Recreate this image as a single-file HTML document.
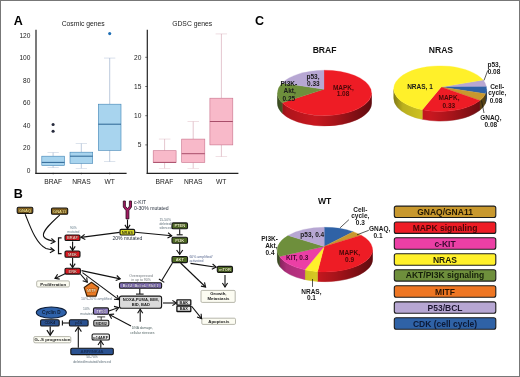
<!DOCTYPE html><html><head><meta charset="utf-8"><title>Figure</title><style>html,body{margin:0;padding:0;background:#fff}svg{display:block}text{font-family:"Liberation Sans",sans-serif}</style></head><body>
<svg width="520" height="377" viewBox="0 0 520 377">
<rect x="0" y="0" width="520" height="377" fill="#fff"/>
<text x="18.3" y="25.2" font-size="12.5" fill="#000" font-weight="bold" text-anchor="middle" >A</text>
<text x="83.2" y="26.4" font-size="6.8" fill="#222" font-weight="normal" text-anchor="middle" >Cosmic genes</text>
<text x="192.2" y="26.4" font-size="6.8" fill="#222" font-weight="normal" text-anchor="middle" >GDSC genes</text>
<line x1="36.0" y1="29.7" x2="36.0" y2="173.9" stroke="#222" stroke-width="1.2" />
<line x1="35.4" y1="173.4" x2="126.6" y2="173.4" stroke="#222" stroke-width="1.1" />
<line x1="53.2" y1="172.8" x2="53.2" y2="174.4" stroke="#222" stroke-width="0.6" />
<line x1="81.4" y1="172.8" x2="81.4" y2="174.4" stroke="#222" stroke-width="0.6" />
<line x1="109.7" y1="172.6" x2="109.7" y2="174.4" stroke="#222" stroke-width="0.6" />
<text x="30.4" y="172.9" font-size="6.6" fill="#222" font-weight="normal" text-anchor="end" >0</text>
<text x="30.4" y="150.4" font-size="6.6" fill="#222" font-weight="normal" text-anchor="end" >20</text>
<text x="30.4" y="127.9" font-size="6.6" fill="#222" font-weight="normal" text-anchor="end" >40</text>
<text x="30.4" y="105.4" font-size="6.6" fill="#222" font-weight="normal" text-anchor="end" >60</text>
<text x="30.4" y="82.9" font-size="6.6" fill="#222" font-weight="normal" text-anchor="end" >80</text>
<text x="30.4" y="60.4" font-size="6.6" fill="#222" font-weight="normal" text-anchor="end" >100</text>
<text x="30.4" y="37.9" font-size="6.6" fill="#222" font-weight="normal" text-anchor="end" >120</text>
<line x1="53.1" y1="152.6" x2="53.1" y2="156.2" stroke="#90a6c6" stroke-width="0.6" />
<line x1="53.1" y1="165.5" x2="53.1" y2="167.6" stroke="#90a6c6" stroke-width="0.6" />
<line x1="47.5" y1="152.6" x2="58.8" y2="152.6" stroke="#90a6c6" stroke-width="0.5" opacity="0.7"/>
<line x1="47.5" y1="167.6" x2="58.8" y2="167.6" stroke="#90a6c6" stroke-width="0.5" opacity="0.7"/>
<rect x="41.8" y="156.2" width="22.7" height="9.3" fill="#a8d4ee" stroke="#3f82b4" stroke-width="0.6"/>
<line x1="41.8" y1="162.4" x2="64.5" y2="162.4" stroke="#2c6493" stroke-width="1.0" />
<circle cx="53.1" cy="124.5" r="1.55" fill="#262a3c"/>
<circle cx="53.1" cy="131.2" r="1.55" fill="#262a3c"/>
<line x1="81.3" y1="143.6" x2="81.3" y2="152.2" stroke="#90a6c6" stroke-width="0.6" />
<line x1="81.3" y1="163.3" x2="81.3" y2="168.3" stroke="#90a6c6" stroke-width="0.6" />
<line x1="75.7" y1="143.6" x2="87.0" y2="143.6" stroke="#90a6c6" stroke-width="0.5" opacity="0.7"/>
<line x1="75.7" y1="168.3" x2="87.0" y2="168.3" stroke="#90a6c6" stroke-width="0.5" opacity="0.7"/>
<rect x="70.0" y="152.2" width="22.7" height="11.1" fill="#a8d4ee" stroke="#3f82b4" stroke-width="0.6"/>
<line x1="70.0" y1="156.2" x2="92.7" y2="156.2" stroke="#2c6493" stroke-width="1.0" />
<line x1="109.7" y1="58.1" x2="109.7" y2="104.2" stroke="#90a6c6" stroke-width="0.6" />
<line x1="109.7" y1="150.3" x2="109.7" y2="161.6" stroke="#90a6c6" stroke-width="0.6" />
<line x1="104.0" y1="58.1" x2="115.3" y2="58.1" stroke="#90a6c6" stroke-width="0.5" opacity="0.7"/>
<line x1="104.0" y1="161.6" x2="115.3" y2="161.6" stroke="#90a6c6" stroke-width="0.5" opacity="0.7"/>
<rect x="98.3" y="104.2" width="22.7" height="46.1" fill="#a8d4ee" stroke="#3f82b4" stroke-width="0.6"/>
<line x1="98.3" y1="124.2" x2="121.0" y2="124.2" stroke="#2c6493" stroke-width="1.0" />
<circle cx="109.7" cy="33.6" r="1.55" fill="#1f6fb5"/>
<text x="53.2" y="183.5" font-size="6.7" fill="#222" font-weight="normal" text-anchor="middle" >BRAF</text>
<text x="81.5" y="183.5" font-size="6.7" fill="#222" font-weight="normal" text-anchor="middle" >NRAS</text>
<text x="109.6" y="183.5" font-size="6.7" fill="#222" font-weight="normal" text-anchor="middle" >WT</text>
<line x1="147.3" y1="29.7" x2="147.3" y2="173.9" stroke="#222" stroke-width="1.2" />
<line x1="146.7" y1="173.4" x2="238.4" y2="173.4" stroke="#222" stroke-width="1.1" />
<line x1="145.2" y1="144.9" x2="147.3" y2="144.9" stroke="#222" stroke-width="0.6" />
<text x="141.4" y="147.2" font-size="6.6" fill="#222" font-weight="normal" text-anchor="end" >5</text>
<line x1="145.2" y1="115.7" x2="147.3" y2="115.7" stroke="#222" stroke-width="0.6" />
<text x="141.4" y="118.0" font-size="6.6" fill="#222" font-weight="normal" text-anchor="end" >10</text>
<line x1="145.2" y1="86.5" x2="147.3" y2="86.5" stroke="#222" stroke-width="0.6" />
<text x="141.4" y="88.8" font-size="6.6" fill="#222" font-weight="normal" text-anchor="end" >15</text>
<line x1="145.2" y1="57.3" x2="147.3" y2="57.3" stroke="#222" stroke-width="0.6" />
<text x="141.4" y="59.6" font-size="6.6" fill="#222" font-weight="normal" text-anchor="end" >20</text>
<line x1="164.6" y1="139.1" x2="164.6" y2="150.7" stroke="#d2a0ac" stroke-width="0.6" />
<line x1="164.6" y1="162.4" x2="164.6" y2="168.3" stroke="#d2a0ac" stroke-width="0.6" />
<line x1="158.9" y1="139.1" x2="170.4" y2="139.1" stroke="#d2a0ac" stroke-width="0.5" opacity="0.7"/>
<line x1="158.9" y1="168.3" x2="170.4" y2="168.3" stroke="#d2a0ac" stroke-width="0.5" opacity="0.7"/>
<rect x="153.2" y="150.7" width="22.9" height="11.7" fill="#f8b9c9" stroke="#c8708a" stroke-width="0.6"/>
<line x1="153.2" y1="162.4" x2="176.1" y2="162.4" stroke="#a84e6a" stroke-width="1.0" />
<line x1="193.2" y1="121.5" x2="193.2" y2="139.1" stroke="#d2a0ac" stroke-width="0.6" />
<line x1="193.2" y1="162.4" x2="193.2" y2="168.3" stroke="#d2a0ac" stroke-width="0.6" />
<line x1="187.5" y1="121.5" x2="199.0" y2="121.5" stroke="#d2a0ac" stroke-width="0.5" opacity="0.7"/>
<line x1="187.5" y1="168.3" x2="199.0" y2="168.3" stroke="#d2a0ac" stroke-width="0.5" opacity="0.7"/>
<rect x="181.7" y="139.1" width="23.1" height="23.4" fill="#f8b9c9" stroke="#c8708a" stroke-width="0.6"/>
<line x1="181.7" y1="153.7" x2="204.8" y2="153.7" stroke="#a84e6a" stroke-width="1.0" />
<line x1="221.4" y1="33.9" x2="221.4" y2="98.2" stroke="#d2a0ac" stroke-width="0.6" />
<line x1="221.4" y1="144.9" x2="221.4" y2="156.6" stroke="#d2a0ac" stroke-width="0.6" />
<line x1="215.6" y1="33.9" x2="227.1" y2="33.9" stroke="#d2a0ac" stroke-width="0.5" opacity="0.7"/>
<line x1="215.6" y1="156.6" x2="227.1" y2="156.6" stroke="#d2a0ac" stroke-width="0.5" opacity="0.7"/>
<rect x="209.9" y="98.2" width="22.9" height="46.7" fill="#f8b9c9" stroke="#c8708a" stroke-width="0.6"/>
<line x1="209.9" y1="121.5" x2="232.8" y2="121.5" stroke="#a84e6a" stroke-width="1.0" />
<text x="164.5" y="183.5" font-size="6.7" fill="#222" font-weight="normal" text-anchor="middle" >BRAF</text>
<text x="193.3" y="183.5" font-size="6.7" fill="#222" font-weight="normal" text-anchor="middle" >NRAS</text>
<text x="221.2" y="183.5" font-size="6.7" fill="#222" font-weight="normal" text-anchor="middle" >WT</text>
<text x="18.3" y="197.7" font-size="12.5" fill="#000" font-weight="bold" text-anchor="middle" >B</text>
<rect x="17.2" y="207.2" width="15.6" height="6.2" rx="1.3" fill="#8a6620" stroke="#161616" stroke-width="1.1"/>
<text x="25.0" y="211.7" font-size="4.0" fill="#f6e58e" font-weight="bold" text-anchor="middle" stroke="#2a1c04" stroke-width="0.4" paint-order="stroke">GNAQ</text>
<rect x="51.5" y="208.0" width="16.2" height="6.3" rx="1.3" fill="#8a6620" stroke="#161616" stroke-width="1.1"/>
<text x="59.6" y="212.6" font-size="4.0" fill="#f6e58e" font-weight="bold" text-anchor="middle" stroke="#2a1c04" stroke-width="0.4" paint-order="stroke">GNA11</text>
<path d="M25.2,214.2 C30,226 36,244 46,248.5 L53.5,250.3" fill="none" stroke="#111" stroke-width="1.1"/>
<polyline points="49.9,252.7 54.2,250.5 50.5,247.5" fill="none" stroke="#111" stroke-width="1.1"/>
<path d="M59.7,215 C52,222 42,231 43.5,236 C44.5,239.5 50,240.5 54,241.4" fill="none" stroke="#111" stroke-width="1.1"/>
<polyline points="50.6,243.7 55.0,241.7 51.4,238.5" fill="none" stroke="#111" stroke-width="1.1"/>
<path d="M61.6,237.9 H58.5 V253.6 H61.6" fill="none" stroke="#111" stroke-width="1.2"/>
<text x="73.3" y="228.6" font-size="3.4" fill="#5f7886" font-weight="normal" text-anchor="middle" >90%</text>
<text x="73.3" y="232.8" font-size="3.4" fill="#5f7886" font-weight="normal" text-anchor="middle" >mutated</text>
<rect x="65.0" y="235.0" width="15.0" height="5.5" rx="1.3" fill="#d81a22" stroke="#161616" stroke-width="1.1"/>
<text x="72.5" y="239.2" font-size="4.0" fill="#f9c0b4" font-weight="bold" text-anchor="middle" stroke="#3a0606" stroke-width="0.4" paint-order="stroke">BRAF</text>
<rect x="65.0" y="251.0" width="15.0" height="6.2" rx="1.3" fill="#d81a22" stroke="#161616" stroke-width="1.1"/>
<text x="72.5" y="255.5" font-size="4.0" fill="#f9c0b4" font-weight="bold" text-anchor="middle" stroke="#3a0606" stroke-width="0.4" paint-order="stroke">MEK</text>
<rect x="65.0" y="268.3" width="15.4" height="5.8" rx="1.3" fill="#d81a22" stroke="#161616" stroke-width="1.1"/>
<text x="72.7" y="272.6" font-size="4.0" fill="#f9c0b4" font-weight="bold" text-anchor="middle" stroke="#3a0606" stroke-width="0.4" paint-order="stroke">ERK</text>
<line x1="72.6" y1="241.4" x2="72.6" y2="250.4" stroke="#111" stroke-width="1.1" />
<polyline points="70.0,246.4 72.6,250.4 75.2,246.4" fill="none" stroke="#111" stroke-width="1.1"/>
<line x1="72.6" y1="258.0" x2="72.6" y2="267.6" stroke="#111" stroke-width="1.1" />
<polyline points="70.0,263.6 72.6,267.6 75.2,263.6" fill="none" stroke="#111" stroke-width="1.1"/>
<path d="M123.3,201 V207 L126,210.6 V218.9 H128.9 V210.6 L131.5,207 V201 H129.4 V206.2 L127.45,208.6 L125.4,206.2 V201 Z" fill="#a21a62" stroke="#2a0a1c" stroke-width="0.8" stroke-linejoin="round"/>
<text x="134.0" y="204.2" font-size="5.1" fill="#2a3340" font-weight="normal" text-anchor="start" >c-KIT</text>
<text x="134.0" y="210.2" font-size="5.1" fill="#2a3340" font-weight="normal" text-anchor="start" >0-30% mutated</text>
<line x1="127.5" y1="219.6" x2="127.5" y2="228.9" stroke="#111" stroke-width="1.1" />
<polyline points="124.9,224.9 127.5,228.9 130.1,224.9" fill="none" stroke="#111" stroke-width="1.1"/>
<rect x="120.0" y="229.4" width="14.7" height="5.6" rx="1.3" fill="#d4d622" stroke="#161616" stroke-width="1.1"/>
<text x="127.3" y="233.6" font-size="4.0" fill="#3a3a00" font-weight="bold" text-anchor="middle" stroke="#f2f280" stroke-width="0.2" paint-order="stroke">NRAS</text>
<text x="127.4" y="240.4" font-size="5.1" fill="#2a3340" font-weight="normal" text-anchor="middle" >20% mutated</text>
<line x1="119.6" y1="232.4" x2="81.0" y2="237.4" stroke="#111" stroke-width="1.1" />
<polyline points="84.6,234.3 81.0,237.4 85.3,239.5" fill="none" stroke="#111" stroke-width="1.1"/>
<line x1="135.0" y1="232.2" x2="171.8" y2="235.8" stroke="#111" stroke-width="1.1" />
<polyline points="167.5,238.0 171.8,235.8 168.1,232.8" fill="none" stroke="#111" stroke-width="1.1"/>
<text x="159.4" y="221.0" font-size="3.4" fill="#5f6f7a" font-weight="normal" text-anchor="start" >15-50%</text>
<text x="159.4" y="225.1" font-size="3.4" fill="#5f6f7a" font-weight="normal" text-anchor="start" >deleted/</text>
<text x="159.4" y="229.2" font-size="3.4" fill="#5f6f7a" font-weight="normal" text-anchor="start" >silenced</text>
<rect x="172.0" y="222.9" width="15.5" height="5.9" rx="1.3" fill="#4f6b25" stroke="#161616" stroke-width="1.1"/>
<text x="179.8" y="227.3" font-size="4.0" fill="#eef2c4" font-weight="bold" text-anchor="middle" stroke="#1a2408" stroke-width="0.4" paint-order="stroke">PTEN</text>
<rect x="172.0" y="237.2" width="15.5" height="6.0" rx="1.3" fill="#4f6b25" stroke="#161616" stroke-width="1.1"/>
<text x="179.8" y="241.6" font-size="4.0" fill="#eef2c4" font-weight="bold" text-anchor="middle" stroke="#1a2408" stroke-width="0.4" paint-order="stroke">PI3K</text>
<line x1="179.7" y1="229.2" x2="179.7" y2="234.8" stroke="#111" stroke-width="1.1" />
<line x1="182.7" y1="234.8" x2="176.7" y2="234.8" stroke="#111" stroke-width="1.1" />
<line x1="179.7" y1="243.6" x2="179.7" y2="254.4" stroke="#111" stroke-width="1.1" />
<polyline points="176.6,250.0 179.7,254.4 182.8,250.0" fill="none" stroke="#111" stroke-width="1.1"/>
<rect x="172.0" y="256.5" width="15.5" height="6.1" rx="1.3" fill="#4f6b25" stroke="#161616" stroke-width="1.1"/>
<text x="179.8" y="261.0" font-size="4.0" fill="#eef2c4" font-weight="bold" text-anchor="middle" stroke="#1a2408" stroke-width="0.4" paint-order="stroke">AKT</text>
<text x="189.4" y="257.7" font-size="3.5" fill="#56668e" font-weight="normal" text-anchor="start" >60% amplified/</text>
<text x="189.4" y="261.7" font-size="3.5" fill="#56668e" font-weight="normal" text-anchor="start" >activated</text>
<line x1="190.5" y1="263.4" x2="216.2" y2="267.2" stroke="#111" stroke-width="1.1" />
<polyline points="211.8,269.2 216.2,267.2 212.6,264.0" fill="none" stroke="#111" stroke-width="1.1"/>
<rect x="217.3" y="266.4" width="15.2" height="6.0" rx="1.3" fill="#4f6b25" stroke="#161616" stroke-width="1.1"/>
<text x="224.9" y="270.8" font-size="4.0" fill="#eef2c4" font-weight="bold" text-anchor="middle" stroke="#1a2408" stroke-width="0.4" paint-order="stroke">mTOR</text>
<line x1="225.0" y1="274.9" x2="225.0" y2="287.0" stroke="#111" stroke-width="1.1" />
<polyline points="222.4,283.0 225.0,287.0 227.6,283.0" fill="none" stroke="#111" stroke-width="1.1"/>
<line x1="180.6" y1="263.0" x2="205.6" y2="287.0" stroke="#111" stroke-width="1.1" />
<polyline points="200.9,286.1 205.6,287.0 204.5,282.3" fill="none" stroke="#111" stroke-width="1.1"/>
<line x1="172.4" y1="263.0" x2="161.6" y2="280.7" stroke="#111" stroke-width="1.1" />
<line x1="164.3" y1="282.4" x2="158.9" y2="279.0" stroke="#111" stroke-width="1.1" />
<rect x="201.0" y="290.4" width="34.2" height="12.0" rx="1.2" fill="#fcfcf2" stroke="#a4a498" stroke-width="0.8"/>
<text x="218.4" y="294.9" font-size="4.3" fill="#222" font-weight="bold" text-anchor="middle" >Growth,</text>
<text x="218.4" y="300.2" font-size="4.3" fill="#222" font-weight="bold" text-anchor="middle" >Metastasis</text>
<rect x="201.8" y="318.2" width="33.7" height="6.2" rx="1.2" fill="#fcfcf2" stroke="#a4a498" stroke-width="0.8"/>
<text x="218.8" y="322.8" font-size="4.3" fill="#222" font-weight="bold" text-anchor="middle" >Apoptosis</text>
<text x="141.1" y="276.7" font-size="3.5" fill="#70777c" font-weight="normal" text-anchor="middle" >Overexpressed</text>
<text x="141.1" y="280.5" font-size="3.5" fill="#70777c" font-weight="normal" text-anchor="middle" >in up to 90%</text>
<rect x="119.5" y="282.8" width="42.1" height="5.5" rx="1.3" fill="#8674b8" stroke="#161616" stroke-width="1.1"/>
<text x="140.6" y="287.0" font-size="3.9" fill="#ece6fa" font-weight="bold" text-anchor="middle" stroke="#1c1436" stroke-width="0.4" paint-order="stroke">Bcl-2, Bcl-xL, Mcl-1</text>
<line x1="139.8" y1="288.7" x2="139.8" y2="294.1" stroke="#111" stroke-width="1.1" />
<line x1="143.6" y1="294.1" x2="136.0" y2="294.1" stroke="#111" stroke-width="1.1" />
<rect x="119.5" y="296.1" width="42.1" height="12.1" rx="2" fill="#dadada" stroke="#161616" stroke-width="1.1"/>
<text x="140.8" y="301.1" font-size="4.1" fill="#222" font-weight="bold" text-anchor="middle" >NOXA,PUMA, BIM,</text>
<text x="140.8" y="305.7" font-size="4.1" fill="#222" font-weight="bold" text-anchor="middle" >BID, BAD</text>
<line x1="163.0" y1="303.0" x2="176.4" y2="303.0" stroke="#111" stroke-width="1.1" />
<polyline points="172.4,305.6 176.4,303.0 172.4,300.4" fill="none" stroke="#111" stroke-width="1.1"/>
<rect x="176.9" y="299.9" width="13.9" height="5.3" rx="0.6" fill="#e6e6e6" stroke="#111" stroke-width="1.3"/>
<text x="183.8" y="304.0" font-size="3.9" fill="#222" font-weight="bold" text-anchor="middle" >BAK</text>
<rect x="176.9" y="306.2" width="13.9" height="5.3" rx="0.6" fill="#e6e6e6" stroke="#111" stroke-width="1.3"/>
<text x="183.8" y="310.3" font-size="3.9" fill="#222" font-weight="bold" text-anchor="middle" >BAX</text>
<line x1="191.4" y1="306.0" x2="201.6" y2="318.6" stroke="#111" stroke-width="1.1" />
<polyline points="197.0,317.1 201.6,318.6 201.1,313.8" fill="none" stroke="#111" stroke-width="1.1"/>
<text x="142.3" y="329.3" font-size="3.4" fill="#566" font-weight="normal" text-anchor="middle" >DNA damage,</text>
<text x="142.3" y="333.6" font-size="3.4" fill="#566" font-weight="normal" text-anchor="middle" >cellular stresses</text>
<line x1="140.2" y1="321.8" x2="140.2" y2="309.2" stroke="#111" stroke-width="1.1" />
<polyline points="142.8,313.2 140.2,309.2 137.6,313.2" fill="none" stroke="#111" stroke-width="1.1"/>
<line x1="131.0" y1="326.0" x2="109.3" y2="314.5" stroke="#111" stroke-width="1.1" />
<polyline points="114.1,314.1 109.3,314.5 111.6,318.7" fill="none" stroke="#111" stroke-width="1.1"/>
<rect x="36.7" y="280.9" width="32.7" height="6.1" rx="1.2" fill="#fcfcf2" stroke="#a4a498" stroke-width="0.8"/>
<text x="53.2" y="285.6" font-size="4.4" fill="#1a1a1a" font-weight="bold" text-anchor="middle" >Proliferation</text>
<line x1="65.6" y1="273.6" x2="55.0" y2="278.4" stroke="#111" stroke-width="1.1" />
<polyline points="57.6,274.3 55.0,278.4 59.7,279.1" fill="none" stroke="#111" stroke-width="1.1"/>
<line x1="80.4" y1="274.0" x2="87.3" y2="282.2" stroke="#111" stroke-width="1.1" />
<polyline points="82.7,280.8 87.3,282.2 86.7,277.4" fill="none" stroke="#111" stroke-width="1.1"/>
<line x1="81.5" y1="270.6" x2="120.2" y2="278.9" stroke="#111" stroke-width="1.1" />
<polyline points="115.7,280.6 120.2,278.9 116.8,275.5" fill="none" stroke="#111" stroke-width="1.1"/>
<line x1="82.5" y1="272.6" x2="118.8" y2="299.6" stroke="#111" stroke-width="1.1" />
<polyline points="114.0,299.3 118.8,299.6 117.1,295.1" fill="none" stroke="#111" stroke-width="1.1"/>
<polygon points="91.5,282.3 98.8,287.6 96.0,296.2 87.0,296.2 84.2,287.6" fill="#ea7a24" stroke="#3a2208" stroke-width="1.2" stroke-linejoin="round"/>
<text x="91.5" y="291.6" font-size="3.8" fill="#ffe0b0" font-weight="bold" text-anchor="middle" stroke="#5a2a04" stroke-width="0.3" paint-order="stroke">MITF</text>
<text x="96.4" y="300.3" font-size="3.6" fill="#6a7a8a" font-weight="normal" text-anchor="middle" >10%-20% amplified</text>
<ellipse cx="51.3" cy="312.6" rx="15" ry="5.6" fill="#2f62aa" stroke="#0c1c36" stroke-width="1.1"/>
<text x="51.3" y="314.3" font-size="4.6" fill="#0d1d35" font-weight="bold" text-anchor="middle" >Cyclin D</text>
<rect x="40.6" y="319.8" width="18.6" height="6.2" rx="1.3" fill="#2a5190" stroke="#161616" stroke-width="1.1"/>
<text x="49.9" y="324.3" font-size="4.0" fill="#0a1834" font-weight="bold" text-anchor="middle" stroke="#5f82ba" stroke-width="0.15" paint-order="stroke">CDK4</text>
<rect x="69.4" y="319.8" width="18.7" height="6.2" rx="1.3" fill="#2a5190" stroke="#161616" stroke-width="1.1"/>
<text x="78.8" y="324.3" font-size="4.0" fill="#0a1834" font-weight="bold" text-anchor="middle" stroke="#5f82ba" stroke-width="0.15" paint-order="stroke">p16</text>
<line x1="69.4" y1="323.0" x2="62.4" y2="323.0" stroke="#111" stroke-width="1.1" />
<line x1="62.4" y1="325.6" x2="62.4" y2="320.4" stroke="#111" stroke-width="1.1" />
<line x1="50.2" y1="326.6" x2="50.2" y2="335.2" stroke="#111" stroke-width="1.2" />
<polyline points="46.9,330.2 50.2,335.2 53.5,330.2" fill="none" stroke="#111" stroke-width="1.2"/>
<rect x="33.8" y="336.6" width="37.0" height="6.2" rx="1.2" fill="#fcfcf2" stroke="#a4a498" stroke-width="0.8"/>
<text x="52.4" y="341.4" font-size="4.35" fill="#222" font-weight="bold" text-anchor="middle" >G₁-S progression</text>
<text x="86.4" y="310.4" font-size="3.4" fill="#5f6f7a" font-weight="normal" text-anchor="middle" >10%</text>
<text x="86.4" y="314.6" font-size="3.4" fill="#5f6f7a" font-weight="normal" text-anchor="middle" >mutated</text>
<rect x="93.5" y="307.9" width="15.0" height="6.4" rx="1.3" fill="#9685c6" stroke="#161616" stroke-width="1.1"/>
<text x="101.0" y="312.5" font-size="4.0" fill="#f0eafc" font-weight="bold" text-anchor="middle" stroke="#241a40" stroke-width="0.4" paint-order="stroke">TP53</text>
<line x1="108.8" y1="311.0" x2="118.7" y2="307.6" stroke="#111" stroke-width="1.1" />
<polyline points="115.8,311.4 118.7,307.6 114.0,306.4" fill="none" stroke="#111" stroke-width="1.1"/>
<line x1="101.2" y1="320.0" x2="101.2" y2="316.9" stroke="#111" stroke-width="0.8" />
<line x1="97.2" y1="316.9" x2="105.2" y2="316.9" stroke="#111" stroke-width="0.8" />
<rect x="93.8" y="320.2" width="15.0" height="5.8" rx="1.3" fill="#d4d4d4" stroke="#161616" stroke-width="1.1"/>
<text x="101.2" y="324.6" font-size="3.9" fill="#222" font-weight="bold" text-anchor="middle" >MDM2</text>
<rect x="92.1" y="334.0" width="17.3" height="6.0" rx="1.3" fill="#f0f0f0" stroke="#161616" stroke-width="1.1"/>
<text x="100.7" y="338.5" font-size="3.9" fill="#222" font-weight="bold" text-anchor="middle" >p14ARF</text>
<rect x="70.8" y="348.2" width="42.5" height="6.4" rx="1.3" fill="#2a5190" stroke="#161616" stroke-width="1.1"/>
<text x="92.0" y="352.9" font-size="4.3" fill="#16305c" font-weight="bold" text-anchor="middle" stroke="#16305c" stroke-width="0.1" paint-order="stroke">ARF/INK4A</text>
<line x1="78.3" y1="347.8" x2="78.3" y2="326.9" stroke="#111" stroke-width="1.1" />
<polyline points="81.4,331.6 78.3,326.9 75.2,331.6" fill="none" stroke="#111" stroke-width="1.1"/>
<line x1="100.8" y1="347.8" x2="100.8" y2="340.7" stroke="#111" stroke-width="1.1" />
<polyline points="103.6,345.0 100.8,340.7 98.0,345.0" fill="none" stroke="#111" stroke-width="1.1"/>
<text x="92.0" y="358.4" font-size="3.4" fill="#5f6f7a" font-weight="normal" text-anchor="middle" >50-70%</text>
<text x="92.0" y="362.6" font-size="3.4" fill="#5f6f7a" font-weight="normal" text-anchor="middle" >deleted/mutated/silenced</text>
<text x="259.5" y="25.2" font-size="12.5" fill="#000" font-weight="bold" text-anchor="middle" >C</text>
<text x="324.6" y="52.6" font-size="8.6" fill="#111" font-weight="bold" text-anchor="middle" >BRAF</text>
<defs><linearGradient id="sg1" x1="0" x2="1" y1="0" y2="0"><stop offset="0" stop-color="#000" stop-opacity="0.5"/><stop offset="0.1" stop-color="#000" stop-opacity="0.27"/><stop offset="0.4" stop-color="#000" stop-opacity="0.16"/><stop offset="0.62" stop-color="#000" stop-opacity="0.3"/><stop offset="1" stop-color="#000" stop-opacity="0.6"/></linearGradient></defs>
<path d="M371.50,92.90 A47,22.7 0 0 1 282.25,102.84 L282.25,113.24 A47,22.7 0 0 0 371.50,103.30 Z" fill="#ee1c25" stroke="#ee1c25" stroke-width="0.3"/>
<path d="M282.25,102.84 A47,22.7 0 0 1 277.50,92.90 L277.50,103.30 A47,22.7 0 0 0 282.25,113.24 Z" fill="#6e8f3c" stroke="#6e8f3c" stroke-width="0.3"/>
<path d="M277.2,92.9 A47.3,22.7 0 0 0 371.8,92.9 L371.8,103.30000000000001 A47.3,23.0 0 0 1 277.2,103.30000000000001 Z" fill="url(#sg1)"/>
<path d="M324.00,89.30 L324.00,70.20 A47,22.7 0 1 1 282.25,102.84 Z" fill="#ee1c25" stroke="#ee1c25" stroke-width="0.3"/>
<path d="M324.00,89.30 L282.25,102.84 A47,22.7 0 0 1 282.18,83.03 Z" fill="#6e8f3c" stroke="#6e8f3c" stroke-width="0.3"/>
<path d="M324.00,89.30 L282.18,83.03 A47,22.7 0 0 1 324.00,70.20 Z" fill="#b7a7d3" stroke="#b7a7d3" stroke-width="0.3"/>
<text x="313.0" y="78.8" font-size="6.5" fill="#1a1a1a" font-weight="bold" text-anchor="middle" >p53,</text>
<text x="313.4" y="85.5" font-size="6.5" fill="#1a1a1a" font-weight="bold" text-anchor="middle" >0.33</text>
<text x="343.4" y="90.0" font-size="6.5" fill="#4a0808" font-weight="bold" text-anchor="middle" >MAPK,</text>
<text x="343.0" y="96.4" font-size="6.5" fill="#4a0808" font-weight="bold" text-anchor="middle" >1.08</text>
<text x="288.8" y="86.0" font-size="6.5" fill="#1a1a1a" font-weight="bold" text-anchor="middle" >PI3K-</text>
<text x="289.6" y="93.4" font-size="6.5" fill="#1a1a1a" font-weight="bold" text-anchor="middle" >Akt,</text>
<text x="288.8" y="100.8" font-size="6.5" fill="#1a1a1a" font-weight="bold" text-anchor="middle" >0.25</text>
<text x="440.9" y="52.6" font-size="8.6" fill="#111" font-weight="bold" text-anchor="middle" >NRAS</text>
<defs><linearGradient id="sg2" x1="0" x2="1" y1="0" y2="0"><stop offset="0" stop-color="#000" stop-opacity="0.5"/><stop offset="0.1" stop-color="#000" stop-opacity="0.27"/><stop offset="0.4" stop-color="#000" stop-opacity="0.16"/><stop offset="0.62" stop-color="#000" stop-opacity="0.3"/><stop offset="1" stop-color="#000" stop-opacity="0.6"/></linearGradient></defs>
<path d="M486.60,88.70 A46.4,22.8 0 0 1 485.44,93.77 L485.44,103.37 A46.4,22.8 0 0 0 486.60,98.30 Z" fill="#2f62a6" stroke="#2f62a6" stroke-width="0.3"/>
<path d="M485.44,93.77 A46.4,22.8 0 0 1 479.89,100.51 L479.89,110.11 A46.4,22.8 0 0 0 485.44,103.37 Z" fill="#c8982e" stroke="#c8982e" stroke-width="0.3"/>
<path d="M479.89,100.51 A46.4,22.8 0 0 1 422.34,109.74 L422.34,119.34 A46.4,22.8 0 0 0 479.89,110.11 Z" fill="#ee1c25" stroke="#ee1c25" stroke-width="0.3"/>
<path d="M422.34,109.74 A46.4,22.8 0 0 1 393.80,88.70 L393.80,98.30 A46.4,22.8 0 0 0 422.34,119.34 Z" fill="#fff02a" stroke="#fff02a" stroke-width="0.3"/>
<path d="M393.5,88.7 A46.699999999999996,22.8 0 0 0 486.9,88.7 L486.9,98.3 A46.699999999999996,23.1 0 0 1 393.5,98.3 Z" fill="url(#sg2)"/>
<path d="M441.20,87.00 L483.15,80.07 A46.4,22.8 0 0 1 486.43,86.75 Z" fill="#b7a7d3" stroke="#b7a7d3" stroke-width="0.3"/>
<path d="M441.20,87.00 L486.43,86.75 A46.4,22.8 0 0 1 485.44,93.77 Z" fill="#2f62a6" stroke="#2f62a6" stroke-width="0.3"/>
<path d="M441.20,87.00 L485.44,93.77 A46.4,22.8 0 0 1 479.89,100.51 Z" fill="#c8982e" stroke="#c8982e" stroke-width="0.3"/>
<path d="M441.20,87.00 L479.89,100.51 A46.4,22.8 0 0 1 422.34,109.74 Z" fill="#ee1c25" stroke="#ee1c25" stroke-width="0.3"/>
<path d="M441.20,87.00 L422.34,109.74 A46.4,22.8 0 1 1 483.15,80.07 Z" fill="#fff02a" stroke="#fff02a" stroke-width="0.3"/>
<text x="420.0" y="88.8" font-size="6.5" fill="#1a1a1a" font-weight="bold" text-anchor="middle" >NRAS, 1</text>
<text x="449.0" y="100.4" font-size="6.5" fill="#4a0808" font-weight="bold" text-anchor="middle" >MAPK,</text>
<text x="448.8" y="108.0" font-size="6.5" fill="#4a0808" font-weight="bold" text-anchor="middle" >0.33</text>
<text x="494.0" y="66.8" font-size="6.5" fill="#1a1a1a" font-weight="bold" text-anchor="middle" >p53,</text>
<text x="494.0" y="73.8" font-size="6.5" fill="#1a1a1a" font-weight="bold" text-anchor="middle" >0.08</text>
<text x="497.2" y="88.6" font-size="6.5" fill="#1a1a1a" font-weight="bold" text-anchor="middle" >Cell-</text>
<text x="497.2" y="95.2" font-size="6.5" fill="#1a1a1a" font-weight="bold" text-anchor="middle" >cycle,</text>
<text x="496.0" y="102.6" font-size="6.5" fill="#1a1a1a" font-weight="bold" text-anchor="middle" >0.08</text>
<text x="490.8" y="120.3" font-size="6.5" fill="#1a1a1a" font-weight="bold" text-anchor="middle" >GNAQ,</text>
<text x="490.8" y="127.3" font-size="6.5" fill="#1a1a1a" font-weight="bold" text-anchor="middle" >0.08</text>
<line x1="484.0" y1="80.4" x2="487.8" y2="70.4" stroke="#111" stroke-width="0.7" />
<line x1="481.5" y1="100.5" x2="484.0" y2="113.0" stroke="#111" stroke-width="0.7" />
<text x="324.6" y="204.0" font-size="8.6" fill="#111" font-weight="bold" text-anchor="middle" >WT</text>
<defs><linearGradient id="sg3" x1="0" x2="1" y1="0" y2="0"><stop offset="0" stop-color="#000" stop-opacity="0.5"/><stop offset="0.1" stop-color="#000" stop-opacity="0.27"/><stop offset="0.4" stop-color="#000" stop-opacity="0.16"/><stop offset="0.62" stop-color="#000" stop-opacity="0.3"/><stop offset="1" stop-color="#000" stop-opacity="0.6"/></linearGradient></defs>
<path d="M372.50,249.60 A47.6,22.3 0 0 1 317.58,271.64 L317.58,281.44 A47.6,22.3 0 0 0 372.50,259.40 Z" fill="#ee1c25" stroke="#ee1c25" stroke-width="0.3"/>
<path d="M317.58,271.64 A47.6,22.3 0 0 1 304.94,269.85 L304.94,279.65 A47.6,22.3 0 0 0 317.58,281.44 Z" fill="#fff02a" stroke="#fff02a" stroke-width="0.3"/>
<path d="M304.94,269.85 A47.6,22.3 0 0 1 279.68,256.56 L279.68,266.36 A47.6,22.3 0 0 0 304.94,279.65 Z" fill="#ec3fa5" stroke="#ec3fa5" stroke-width="0.3"/>
<path d="M279.68,256.56 A47.6,22.3 0 0 1 277.30,249.60 L277.30,259.40 A47.6,22.3 0 0 0 279.68,266.36 Z" fill="#6e8f3c" stroke="#6e8f3c" stroke-width="0.3"/>
<path d="M276.99999999999994,249.6 A47.9,22.3 0 0 0 372.8,249.6 L372.8,259.4 A47.9,22.6 0 0 1 276.99999999999994,259.4 Z" fill="url(#sg3)"/>
<path d="M324.20,246.50 L324.20,227.30 A47.6,22.3 0 0 1 353.21,231.67 Z" fill="#2f62a6" stroke="#2f62a6" stroke-width="0.3"/>
<path d="M324.20,246.50 L353.21,231.67 A47.6,22.3 0 0 1 361.26,235.21 Z" fill="#c8982e" stroke="#c8982e" stroke-width="0.3"/>
<path d="M324.20,246.50 L361.26,235.21 A47.6,22.3 0 0 1 317.58,271.64 Z" fill="#ee1c25" stroke="#ee1c25" stroke-width="0.3"/>
<path d="M324.20,246.50 L317.58,271.64 A47.6,22.3 0 0 1 304.94,269.85 Z" fill="#fff02a" stroke="#fff02a" stroke-width="0.3"/>
<path d="M324.20,246.50 L304.94,269.85 A47.6,22.3 0 0 1 279.68,256.56 Z" fill="#ec3fa5" stroke="#ec3fa5" stroke-width="0.3"/>
<path d="M324.20,246.50 L279.68,256.56 A47.6,22.3 0 0 1 288.05,235.49 Z" fill="#6e8f3c" stroke="#6e8f3c" stroke-width="0.3"/>
<path d="M324.20,246.50 L288.05,235.49 A47.6,22.3 0 0 1 324.20,227.30 Z" fill="#b7a7d3" stroke="#b7a7d3" stroke-width="0.3"/>
<text x="360.3" y="211.8" font-size="6.5" fill="#1a1a1a" font-weight="bold" text-anchor="middle" >Cell-</text>
<text x="360.3" y="218.3" font-size="6.5" fill="#1a1a1a" font-weight="bold" text-anchor="middle" >cycle,</text>
<text x="360.3" y="225.4" font-size="6.5" fill="#1a1a1a" font-weight="bold" text-anchor="middle" >0.3</text>
<text x="379.6" y="231.2" font-size="6.5" fill="#1a1a1a" font-weight="bold" text-anchor="middle" >GNAQ,</text>
<text x="378.0" y="237.5" font-size="6.5" fill="#1a1a1a" font-weight="bold" text-anchor="middle" >0.1</text>
<text x="349.6" y="254.7" font-size="6.5" fill="#4a0808" font-weight="bold" text-anchor="middle" >MAPK,</text>
<text x="349.6" y="261.5" font-size="6.5" fill="#4a0808" font-weight="bold" text-anchor="middle" >0.9</text>
<text x="312.3" y="237.0" font-size="6.5" fill="#1a1a1a" font-weight="bold" text-anchor="middle" >p53, 0.4</text>
<text x="297.2" y="259.7" font-size="6.5" fill="#4a0830" font-weight="bold" text-anchor="middle" >KIT, 0.3</text>
<text x="269.6" y="241.3" font-size="6.5" fill="#1a1a1a" font-weight="bold" text-anchor="middle" >PI3K-</text>
<text x="271.3" y="248.1" font-size="6.5" fill="#1a1a1a" font-weight="bold" text-anchor="middle" >Akt,</text>
<text x="270.0" y="254.7" font-size="6.5" fill="#1a1a1a" font-weight="bold" text-anchor="middle" >0.4</text>
<text x="311.4" y="293.5" font-size="6.5" fill="#1a1a1a" font-weight="bold" text-anchor="middle" >NRAS,</text>
<text x="311.4" y="300.0" font-size="6.5" fill="#1a1a1a" font-weight="bold" text-anchor="middle" >0.1</text>
<line x1="348.9" y1="219.7" x2="340.1" y2="227.8" stroke="#111" stroke-width="0.7" />
<line x1="368.8" y1="230.3" x2="357.0" y2="234.8" stroke="#111" stroke-width="0.7" />
<line x1="312.5" y1="279.0" x2="312.5" y2="286.9" stroke="#111" stroke-width="0.7" />
<rect x="394.3" y="206.1" width="101.5" height="11.4" rx="2" fill="#c8982e" stroke="#1c1c1c" stroke-width="1.1"/>
<text x="445.0" y="214.8" font-size="8.5" fill="#241804" font-weight="bold" text-anchor="middle" >GNAQ/GNA11</text>
<rect x="394.3" y="222.0" width="101.5" height="11.4" rx="2" fill="#ee1c25" stroke="#1c1c1c" stroke-width="1.1"/>
<text x="445.0" y="230.8" font-size="8.5" fill="#4a0606" font-weight="bold" text-anchor="middle" >MAPK signaling</text>
<rect x="394.3" y="237.8" width="101.5" height="11.4" rx="2" fill="#ec3fa5" stroke="#1c1c1c" stroke-width="1.1"/>
<text x="445.0" y="246.6" font-size="8.5" fill="#3c0830" font-weight="bold" text-anchor="middle" >c-KIT</text>
<rect x="394.3" y="253.8" width="101.5" height="11.4" rx="2" fill="#fff02a" stroke="#1c1c1c" stroke-width="1.1"/>
<text x="445.0" y="262.6" font-size="8.5" fill="#1c1c04" font-weight="bold" text-anchor="middle" >NRAS</text>
<rect x="394.3" y="269.7" width="101.5" height="11.4" rx="2" fill="#6e8f3c" stroke="#1c1c1c" stroke-width="1.1"/>
<text x="445.0" y="278.4" font-size="8.5" fill="#16200a" font-weight="bold" text-anchor="middle" >AKT/PI3K signaling</text>
<rect x="394.3" y="285.8" width="101.5" height="11.4" rx="2" fill="#ee7623" stroke="#1c1c1c" stroke-width="1.1"/>
<text x="445.0" y="294.6" font-size="8.5" fill="#2c1404" font-weight="bold" text-anchor="middle" >MITF</text>
<rect x="394.3" y="301.9" width="101.5" height="11.4" rx="2" fill="#b7a7d3" stroke="#1c1c1c" stroke-width="1.1"/>
<text x="445.0" y="310.6" font-size="8.5" fill="#1c1630" font-weight="bold" text-anchor="middle" >P53/BCL</text>
<rect x="394.3" y="317.8" width="101.5" height="11.4" rx="2" fill="#2f62a6" stroke="#1c1c1c" stroke-width="1.1"/>
<text x="445.0" y="326.6" font-size="8.5" fill="#0c1a38" font-weight="bold" text-anchor="middle" >CDK (cell cycle)</text>
<rect x="0.5" y="0.5" width="519" height="376" fill="none" stroke="#777" stroke-width="1"/>
</svg></body></html>
